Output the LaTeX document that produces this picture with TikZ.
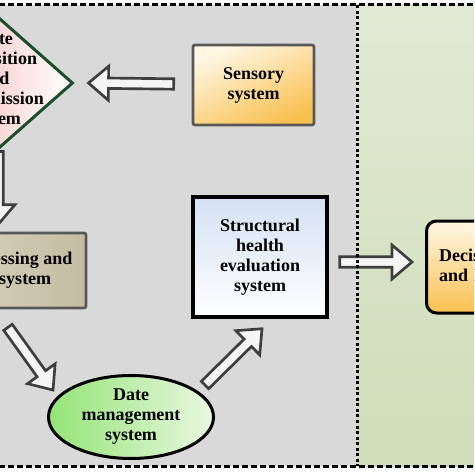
\documentclass[tikz,border=0pt]{standalone}
\usepackage{fontspec}
\setmainfont{Liberation Serif}
\usetikzlibrary{shapes.geometric,calc}

\definecolor{bggray}{RGB}{217,217,217}
\definecolor{bggreenA}{RGB}{225,234,212}
\definecolor{bggreenB}{RGB}{207,221,185}
\definecolor{arrowline}{RGB}{62,62,62}
\definecolor{boxline}{RGB}{88,88,88}
\definecolor{diagreen}{RGB}{28,78,44}
\definecolor{pinkfill}{RGB}{242,172,172}
\definecolor{orangeA}{RGB}{255,247,230}
\definecolor{orangeB}{RGB}{249,192,80}
\definecolor{khakiA}{RGB}{224,218,200}
\definecolor{khakiB}{RGB}{196,188,162}
\definecolor{blueA}{RGB}{212,225,244}
\definecolor{greenA}{RGB}{148,228,118}
\definecolor{greenB}{RGB}{234,248,226}

\newcommand{\fatarrow}[2]{%
\coordinate (fa) at #1;
\coordinate (fb) at #2;
\coordinate (fh) at ($(fb)!15pt!(fa)$);
\draw [fatarrow] ($(fa)!3.9pt!90:(fb)$) -- ($(fh)!3.9pt!-90:(fa)$) -- ($(fh)!12.75pt!-90:(fa)$) -- (fb) -- ($(fh)!12.75pt!90:(fa)$) -- ($(fh)!3.9pt!90:(fa)$) -- ($(fa)!3.9pt!-90:(fb)$) -- cycle;}

\begin{document}
\begin{tikzpicture}[x=0.75pt,y=-0.75pt,
  every node/.style={font=\fontsize{13.5}{15}\selectfont\bfseries,align=center},
  fatarrow/.style={draw=arrowline,fill=white!96!black,line width=2pt,line join=miter},
  frame/.style={line width=2.25pt,dash pattern=on 4.5pt off 2.25pt},
  divider/.style={line width=2.25pt,dash pattern=on 2.25pt off 1.9pt},
  acqshape/.style={diamond,draw=diagreen,line width=2.25pt,left color=pinkfill,right color=white,inner sep=0pt,minimum width=117pt,minimum height=103.5pt},
  sensbox/.style={rectangle,draw=boxline,line width=2pt,rounded corners=1.5pt,top color=orangeA,bottom color=orangeB,shading angle=25,minimum width=90.75pt,minimum height=60pt},
  procbox/.style={rectangle,draw=boxline,line width=2pt,rounded corners=1.5pt,left color=khakiA,right color=khakiB,inner sep=2pt,minimum width=136.5pt,minimum height=56.25pt},
  mgmtell/.style={ellipse,draw=black,line width=2.25pt,left color=greenA,right color=greenB,inner sep=0pt,minimum width=123.75pt,minimum height=62.25pt},
  shesbox/.style={rectangle,draw=black,line width=2.6pt,top color=blueA,bottom color=white,minimum width=100.5pt,minimum height=90pt},
  decbox/.style={rectangle,draw=black,line width=2.25pt,rounded corners=7.5pt,top color=orangeA,bottom color=orangeB,align=left,text width=120pt,inner xsep=9.5pt,minimum height=69pt}]
\useasboundingbox (0,0) rectangle (474,474);
\clip (0,0) rectangle (474,474);
\fill [bggray] (-10,5) rectangle (357,466);
\shade [top color=bggreenA,bottom color=bggreenB] (357,5) rectangle (484,466);
\draw [frame] (-10,5) -- (484,5);
\draw [frame] (-10,466) -- (484,466);
\node [acqshape] (acq) at (-5,83) {};
\node (acqtxt) at (-5,81) {Date\\acquisition\\and\\transmission\\system};
\node [sensbox] (sensory) at (253.5,85) {Sensory\\system};
\node [procbox] (proc) at (-5,270.5) {Date processing and\\storage system};
\node [mgmtell] (mgmt) at (131,417) {Date\\management\\system};
\node [shesbox] (shes) at (260,257) {Structural\\health\\evaluation\\system};
\node [decbox,anchor=west] (dec) at (425,267) {Decision making\\and Implementation};
\fatarrow{($(sensory.west)+(-18,-1)$)}{($(acq.east)+(14,0)$)}
\fatarrow{($(acq.south)+(3,-2)$)}{($(proc.north)+(3,-7)$)}
\fatarrow{($(proc.south)+(13,18)$)}{($(mgmt.center)+(-78,-27)$)}
\fatarrow{($(mgmt.center)+(74,-32)$)}{($(shes.south)+(2,10)$)}
\fatarrow{($(shes.east)+(11,5)$)}{($(dec.west)+(-13,-5)$)}
\draw [divider] (357,5) -- (357,466);
\end{tikzpicture}
\end{document}
